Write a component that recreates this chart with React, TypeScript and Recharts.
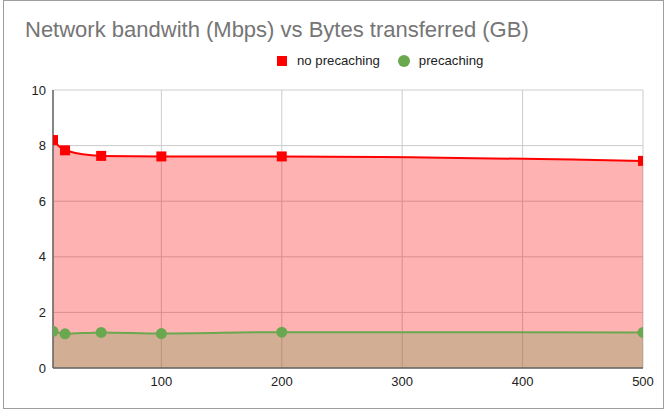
import { Area, AreaChart, CartesianGrid, Legend, XAxis, YAxis } from 'recharts';

const BYTES_GB = [10, 20, 50, 100, 200, 500];
const NO_PRECACHING = [8.2, 7.83, 7.63, 7.61, 7.61, 7.45];
const PRECACHING = [1.32, 1.23, 1.28, 1.24, 1.29, 1.28];
const X_TICKS = [100, 200, 300, 400, 500];
const Y_TICKS = [0, 2, 4, 6, 8, 10];

const RED = '#ff0000';
const GREEN = '#6aa84f';
const FONT = '"Liberation Sans", Arial, sans-serif';
const TICK_STYLE = { fill: '#222', fontSize: 13, fontFamily: FONT } as const;

const data = BYTES_GB.map((x, i) => ({ x, noPre: NO_PRECACHING[i], pre: PRECACHING[i] }));

const SquareDot = (props: any) => {
  const { cx, cy, index } = props;
  if (cx == null || cy == null) return <g key={`sq-${index}`} />;
  return <rect key={`sq-${index}`} x={cx - 5} y={cy - 5} width={10} height={10} fill={RED} />;
};

const LegendContent = () => (
  <div style={{ display: 'flex', paddingLeft: 277, fontFamily: FONT, fontSize: 13.2, color: '#222' }}>
    <div style={{ display: 'flex', alignItems: 'center', marginRight: 18 }}>
      <span style={{ width: 10, height: 10, background: RED, marginRight: 10, display: 'inline-block' }} />
      no precaching
    </div>
    <div style={{ display: 'flex', alignItems: 'center' }}>
      <span style={{ width: 12, height: 12, borderRadius: 6, background: GREEN, marginRight: 9, display: 'inline-block' }} />
      precaching
    </div>
  </div>
);

export default function App() {
  return (
    <div style={{ position: 'absolute', left: 0, top: 0, width: 665, height: 410, background: '#fff' }}>
      <div style={{ position: 'absolute', left: 3, top: 0, width: 659, height: 407, border: '1px solid #9e9e9e' }} />
      <div
        style={{
          position: 'absolute',
          left: 25,
          top: 17,
          fontFamily: FONT,
          fontSize: 22,
          color: '#757575',
          whiteSpace: 'nowrap',
        }}
      >
        Network bandwith (Mbps) vs Bytes transferred (GB)
      </div>
      <AreaChart width={665} height={410} data={data} margin={{ top: 90, right: 22, bottom: 0, left: 0 }}>
        <CartesianGrid stroke="#cccccc" />
        <XAxis
          dataKey="x"
          type="number"
          domain={[10, 500]}
          ticks={X_TICKS}
          allowDataOverflow
          tickLine={false}
          tickSize={0}
          tickMargin={9}
          height={42}
          stroke="#666"
          strokeWidth={1.5}
          tick={TICK_STYLE}
        />
        <YAxis
          type="number"
          domain={[0, 10]}
          ticks={Y_TICKS}
          allowDataOverflow
          tickLine={false}
          tickSize={0}
          tickMargin={7}
          width={53}
          stroke="#666"
          strokeWidth={1.5}
          tick={TICK_STYLE}
        />
        <Legend
          content={LegendContent}
          verticalAlign="middle"
          wrapperStyle={{ top: 53, left: 0, width: 665 }}
        />
        <Area
          name="no precaching"
          type="monotone"
          dataKey="noPre"
          stroke={RED}
          strokeWidth={2}
          fill={RED}
          fillOpacity={0.3}
          dot={SquareDot}
          activeDot={false}
          isAnimationActive={false}
        />
        <Area
          name="precaching"
          type="monotone"
          dataKey="pre"
          stroke={GREEN}
          strokeWidth={2}
          fill={GREEN}
          fillOpacity={0.3}
          dot={{ r: 5.5, fill: GREEN, stroke: GREEN, strokeWidth: 0, fillOpacity: 1 }}
          activeDot={false}
          isAnimationActive={false}
        />
      </AreaChart>
    </div>
  );
}
